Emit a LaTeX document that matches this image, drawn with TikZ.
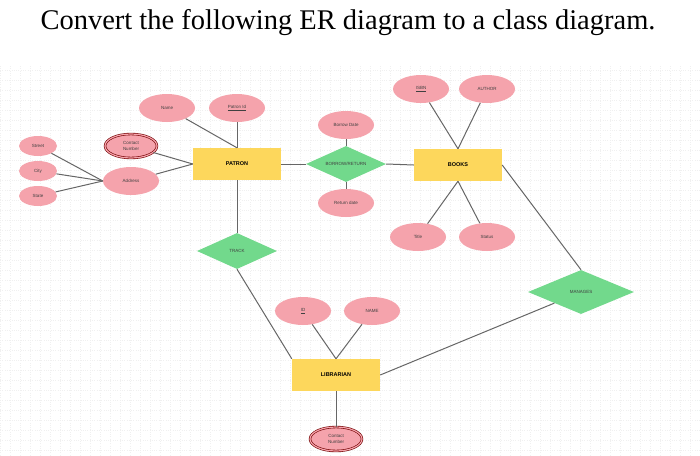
\documentclass[tikz,border=0pt]{standalone}
\usepackage{fontspec}
\setmainfont{Liberation Serif}
\newfontfamily\lab{Liberation Sans}
\usetikzlibrary{shapes.geometric}
\definecolor{pk}{HTML}{F5A3AC}
\definecolor{yl}{HTML}{FDD75C}
\definecolor{gr}{HTML}{72D98C}
\definecolor{ln}{HTML}{666666}
\begin{document}
\begin{tikzpicture}[x=1pt,y=-1pt,
 attr/.style={ellipse,fill=pk,minimum width=56pt,minimum height=28pt,inner sep=0pt,font=\lab\fontsize{4.5}{5.5}\selectfont,text=black!75},
 sattr/.style={attr,minimum width=38pt,minimum height=20pt},
 mattr/.style={attr,draw=red!45!black,double=pk,double distance=1.2pt,line width=0.6pt,minimum width=52pt,minimum height=24pt,align=center},
 ent/.style={rectangle,fill=yl,minimum width=88pt,minimum height=32pt,font=\lab\bfseries\fontsize{5.5}{6.5}\selectfont},
 rel/.style={diamond,fill=gr,aspect=2.2,inner sep=0pt,minimum width=80pt,minimum height=36pt,font=\lab\fontsize{4.5}{5.5}\selectfont,text=black!75},
 con/.style={draw=ln,line width=1pt}]
\useasboundingbox (0,0) rectangle (700,455);
\fill[white] (0,0) rectangle (700,455);
\draw[black!6,line width=0.3pt,dotted] (0,65) grid[step=10pt] (700,455);
\node[font=\fontsize{28.5}{32}\selectfont] (title) at (348,23) {Convert the following ER diagram to a class diagram.};
\node[attr] (name) at (167,108) {Name};
\node[attr] (pid) at (237,108) {\underline{Patron Id}};
\node[mattr] (cn1) at (131,146) {Contact\\Number};
\node[sattr] (street) at (38,146) {Street};
\node[sattr] (city) at (38,171) {City};
\node[sattr] (state) at (38,196) {State};
\node[attr] (addr) at (131,181) {Address};
\node[ent] (patron) at (237,164) {PATRON};
\node[rel] (br) at (346,164) {BORROW/RETURN};
\node[attr] (bd) at (346,125) {Borrow Date};
\node[attr] (rd) at (346,203) {Return date};
\node[ent] (books) at (458,165) {BOOKS};
\node[attr] (isbn) at (421,89) {\underline{ISBN}};
\node[attr] (author) at (487,89) {AUTHOR};
\node[attr] (ttl) at (418,237) {Title};
\node[attr] (status) at (487,237) {Status};
\node[rel] (track) at (237,251) {TRACK};
\node[rel,minimum width=106pt,minimum height=44pt] (man) at (581,292) {MANAGES};
\node[ent] (lib) at (336,375) {LIBRARIAN};
\node[attr] (id) at (303,311) {\underline{ID}};
\node[attr] (nm) at (372,311) {NAME};
\node[mattr] (cn2) at (336,439) {Contact\\Number};
\draw[con] (name) -- (patron.north);
\draw[con] (pid) -- (patron.north);
\draw[con] (cn1) -- (patron.west);
\draw[con] (addr) -- (patron.west);
\draw[con] (street) -- (addr.west);
\draw[con] (city) -- (addr.west);
\draw[con] (state) -- (addr.west);
\draw[con] (patron.east) -- (br.west);
\draw[con] (br.east) -- (books.west);
\draw[con] (bd) -- (br.north);
\draw[con] (rd) -- (br.south);
\draw[con] (isbn) -- (books.north);
\draw[con] (author) -- (books.north);
\draw[con] (ttl) -- (books.south);
\draw[con] (status) -- (books.south);
\draw[con] (books.east) -- (man.north);
\draw[con] (man.south west) -- (lib.east);
\draw[con] (patron.south) -- (track.north);
\draw[con] (track.south) -- (lib.north west);
\draw[con] (id) -- (lib.north);
\draw[con] (nm) -- (lib.north);
\draw[con] (lib.south) -- (cn2);
\end{tikzpicture}
\end{document}
